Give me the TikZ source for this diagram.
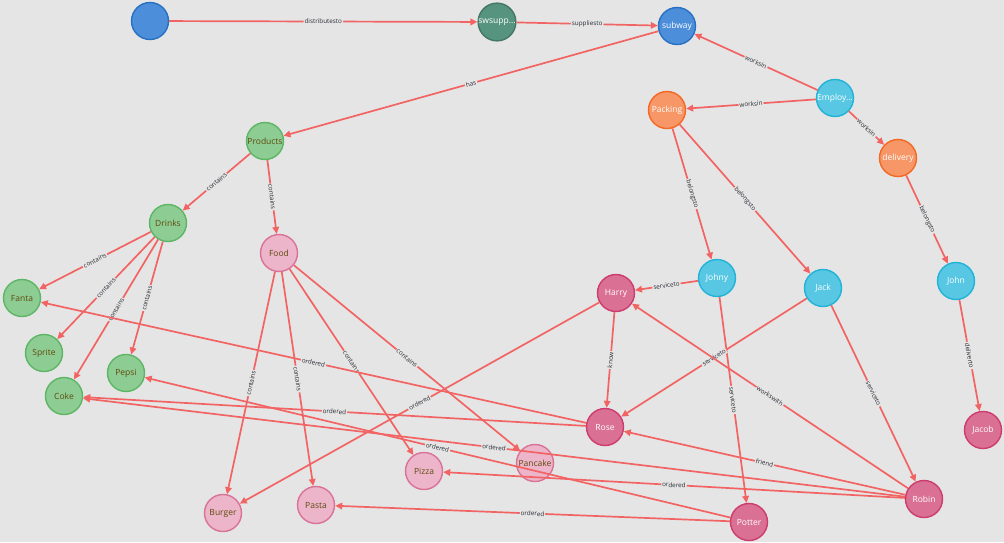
\documentclass[tikz,border=0pt]{standalone}
\usepackage{fontspec}
\setmainfont{Open Sans}
\usetikzlibrary{arrows.meta}
\definecolor{bg}{HTML}{E5E5E5}
\definecolor{rel}{HTML}{F26464}
\definecolor{lbltxt}{HTML}{2A2C34}
\definecolor{bluef}{HTML}{4C8EDA}\definecolor{blueb}{HTML}{2870C2}
\definecolor{tealf}{HTML}{569480}\definecolor{tealb}{HTML}{447666}
\definecolor{cyanf}{HTML}{57C7E3}\definecolor{cyanb}{HTML}{23B3D7}
\definecolor{orangef}{HTML}{F79767}\definecolor{orangeb}{HTML}{F36924}
\definecolor{greenf}{HTML}{8DCC93}\definecolor{greenb}{HTML}{5DB665}
\definecolor{lpinkf}{HTML}{ECB5C9}\definecolor{lpinkb}{HTML}{DA7298}
\definecolor{dpinkf}{HTML}{DA7194}\definecolor{dpinkb}{HTML}{CC3C6C}
\definecolor{browntxt}{HTML}{604A0E}
\begin{document}
\begin{tikzpicture}[x=1pt,y=-1pt,
  gnode/.style={circle,minimum size=37pt,inner sep=0pt,line width=1.4pt,font=\fontsize{8.5}{9}\selectfont},
  bluenode/.style={gnode,fill=bluef,draw=blueb,text=white},
  tealnode/.style={gnode,fill=tealf,draw=tealb,text=white},
  cyannode/.style={gnode,fill=cyanf,draw=cyanb,text=white},
  orangenode/.style={gnode,fill=orangef,draw=orangeb,text=white},
  greennode/.style={gnode,fill=greenf,draw=greenb,text=browntxt},
  lpinknode/.style={gnode,fill=lpinkf,draw=lpinkb,text=browntxt},
  dpinknode/.style={gnode,fill=dpinkf,draw=dpinkb,text=white},
  relline/.style={draw=rel,line width=1.7pt,-{Triangle[length=7pt,width=6.5pt]}},
  lbl/.style={midway,sloped,fill=bg,inner sep=1pt,text=lbltxt,font=\fontsize{6.3}{7}\selectfont}
]
\fill[bg] (0,0) rectangle (1004,542);
\useasboundingbox (0,0) rectangle (1004,542);

% nodes
\node[bluenode] (blank) at (150,21) {};
\node[tealnode] (swsupp) at (497,22) {swsupp...};
\node[bluenode] (subway) at (677,26) {subway};
\node[cyannode] (employ) at (835,98) {Employ...};
\node[orangenode] (packing) at (667,110) {Packing};
\node[orangenode] (delivery) at (898,158) {delivery};
\node[greennode] (products) at (265,141) {Products};
\node[greennode] (drinks) at (168,223) {Drinks};
\node[lpinknode] (food) at (279,253) {Food};
\node[greennode] (fanta) at (22,298) {Fanta};
\node[greennode] (sprite) at (44,353) {Sprite};
\node[greennode] (pepsi) at (126,373) {Pepsi};
\node[greennode] (coke) at (64,396) {Coke};
\node[dpinknode] (harry) at (616,293) {Harry};
\node[cyannode] (johny) at (717,278) {Johny};
\node[cyannode] (jack) at (823,288) {Jack};
\node[cyannode] (john) at (956,281) {John};
\node[dpinknode] (jacob) at (983,430) {Jacob};
\node[dpinknode] (rose) at (605,427) {Rose};
\node[lpinknode] (pancake) at (535,463) {Pancake};
\node[lpinknode] (pizza) at (424,471) {Pizza};
\node[lpinknode] (burger) at (223,513) {Burger};
\node[lpinknode] (pasta) at (316,505) {Pasta};
\node[dpinknode] (potter) at (749,522) {Potter};
\node[dpinknode] (robin) at (924,499) {Robin};

% edges
\path[relline] (blank) -- node[lbl]{distributesto} (swsupp);
\path[relline] (swsupp) -- node[lbl]{suppliesto} (subway);
\path[relline] (subway) -- node[lbl]{has} (products);
\path[relline] (employ) -- node[lbl]{worksin} (subway);
\path[relline] (employ) -- node[lbl]{worksin} (packing);
\path[relline] (employ) -- node[lbl]{worksin} (delivery);
\path[relline] (packing) -- node[lbl]{belongsto} (johny);
\path[relline] (packing) -- node[lbl]{belongsto} (jack);
\path[relline] (delivery) -- node[lbl]{belongsto} (john);
\path[relline] (john) -- node[lbl]{deliverto} (jacob);
\path[relline] (products) -- node[lbl]{contains} (drinks);
\path[relline] (products) -- node[lbl]{contains} (food);
\path[relline] (drinks) -- node[lbl]{contains} (fanta);
\path[relline] (drinks) -- node[lbl]{contains} (sprite);
\path[relline] (drinks) -- node[lbl]{contains} (coke);
\path[relline] (drinks) -- node[lbl]{contains} (pepsi);
\path[relline] (food) -- node[lbl]{contains} (burger);
\path[relline] (food) -- node[lbl]{contains} (pasta);
\path[relline] (food) -- node[lbl]{contains} (pizza);
\path[relline] (food) -- node[lbl]{contains} (pancake);
\path[relline] (johny) -- node[lbl]{serviceto} (harry);
\path[relline] (johny) -- node[lbl]{serviceto} (potter);
\path[relline] (jack) -- node[lbl]{serviceto} (rose);
\path[relline] (jack) -- node[lbl]{serviceto} (robin);
\path[relline] (harry) -- node[lbl]{know} (rose);
\path[relline] (robin) -- node[lbl]{workswith} (harry);
\path[relline] (robin) -- node[lbl]{friend} (rose);
\path[relline] (harry) -- node[lbl]{ordered} (burger);
\path[relline] (rose) -- node[lbl]{ordered} (fanta);
\path[relline] (rose) -- node[lbl]{ordered} (coke);
\path[relline] (robin) -- node[lbl]{ordered} (coke);
\path[relline] (robin) -- node[lbl]{ordered} (pizza);
\path[relline] (potter) -- node[lbl]{ordered} (pepsi);
\path[relline] (potter) -- node[lbl]{ordered} (pasta);
\end{tikzpicture}
\end{document}
